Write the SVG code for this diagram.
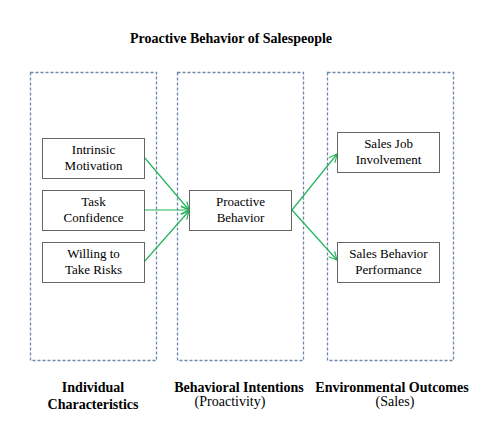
<svg xmlns="http://www.w3.org/2000/svg" width="500" height="425" viewBox="0 0 500 425">
<style>
text{font-family:"Liberation Serif","Times New Roman",serif;fill:#000;}
.t{font-size:13px;text-anchor:middle;}
.s{font-size:14px;text-anchor:middle;}
.b{font-size:14px;font-weight:bold;text-anchor:middle;}
.grp{fill:none;stroke:#6f87a8;stroke-width:1.3;stroke-dasharray:3,2;}
.node{fill:#fff;stroke:#666;stroke-width:1;}
.edge{stroke:#22b45a;stroke-width:1.2;fill:none;marker-end:url(#ah);}
</style>
<defs>
<marker id="ah" markerWidth="10" markerHeight="10" refX="9" refY="5" orient="auto" markerUnits="userSpaceOnUse">
<path d="M1,1 L9,5 L1,9" fill="none" stroke="#22b45a" stroke-width="1.2"/>
</marker>
</defs>
<rect width="500" height="425" fill="#fff"/>
<text class="b" x="231" y="43">Proactive Behavior of Salespeople</text>
<g id="groups">
<rect class="grp" x="30.5" y="72.5" width="126" height="288"/>
<rect class="grp" x="177.5" y="72.5" width="126" height="288"/>
<rect class="grp" x="327.5" y="72.5" width="126" height="288"/>
</g>
<g id="connectors">
<line class="edge" x1="144" y1="157" x2="189" y2="210"/>
<line class="edge" x1="144" y1="210" x2="189" y2="210"/>
<line class="edge" x1="144" y1="262" x2="189" y2="211"/>
<line class="edge" x1="292" y1="210" x2="337" y2="154"/>
<line class="edge" x1="292" y1="210" x2="337" y2="260"/>
</g>
<g id="n1"><rect class="node" x="42.5" y="138.5" width="102" height="40"/><text class="t" x="93.5" y="154">Intrinsic</text><text class="t" x="93.5" y="170">Motivation</text></g>
<g id="n2"><rect class="node" x="42.5" y="190.5" width="102" height="40"/><text class="t" x="93.5" y="206">Task</text><text class="t" x="93.5" y="222">Confidence</text></g>
<g id="n3"><rect class="node" x="42.5" y="242.5" width="102" height="40"/><text class="t" x="93.5" y="258">Willing to</text><text class="t" x="93.5" y="274">Take Risks</text></g>
<g id="n4"><rect class="node" x="189.5" y="190.5" width="102" height="40"/><text class="t" x="240.5" y="206">Proactive</text><text class="t" x="240.5" y="222">Behavior</text></g>
<g id="n5"><rect class="node" x="337.5" y="132.5" width="102" height="40"/><text class="t" x="388.5" y="148">Sales Job</text><text class="t" x="388.5" y="164">Involvement</text></g>
<g id="n6"><rect class="node" x="337.5" y="242.5" width="102" height="40"/><text class="t" x="388.5" y="258">Sales Behavior</text><text class="t" x="388.5" y="274">Performance</text></g>
<g id="labels">
<text class="b" x="93" y="392">Individual</text>
<text class="b" x="93" y="409">Characteristics</text>
<text class="b" x="239" y="392">Behavioral Intentions</text>
<text class="s" x="230" y="406">(Proactivity)</text>
<text class="b" x="392" y="392">Environmental Outcomes</text>
<text class="s" x="395" y="406">(Sales)</text>
</g>
</svg>
